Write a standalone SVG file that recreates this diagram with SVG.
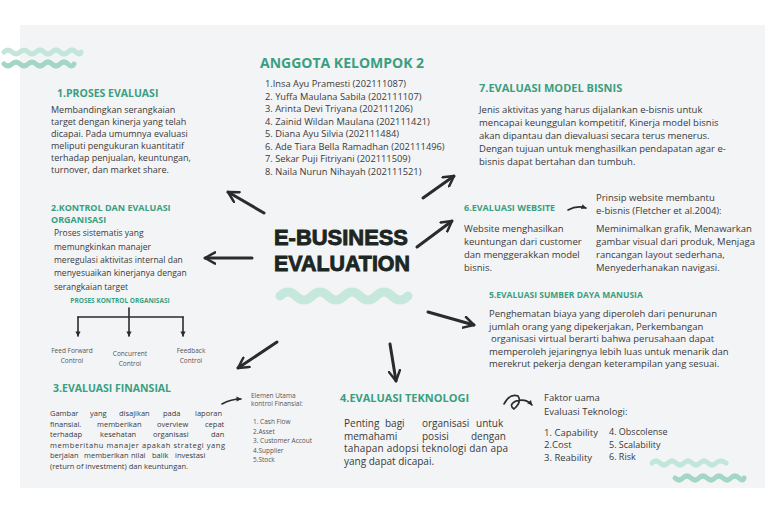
<svg xmlns="http://www.w3.org/2000/svg" width="768" height="512" viewBox="0 0 768 512">
<defs>
<style>
.h{font-family:"Open Sans","DejaVu Sans",sans-serif;font-weight:700;fill:#3a9f80}
.b{font-family:"Open Sans","DejaVu Sans",sans-serif;fill:#3a3a3a}
.s{font-family:"Open Sans","DejaVu Sans",sans-serif;fill:#555}
.t{font-family:"Liberation Sans",Arial,sans-serif;font-weight:700;font-size:22.5px;fill:#1c2622;stroke:#1c2622;stroke-width:0.9px}
.arr{fill:none;stroke:#2b2b2b;stroke-width:3;stroke-linecap:round;marker-end:url(#ah)}
.thin{fill:none;stroke:#2b2b2b;stroke-width:1.6;stroke-linecap:round}
.wave{fill:none;stroke-linecap:round}
</style>
<marker id="ah" viewBox="0 0 12 12" refX="10" refY="6" markerWidth="4.5" markerHeight="4.5" orient="auto" markerUnits="strokeWidth">
<path d="M1,1 L10,6 L1,11" fill="none" stroke="#2b2b2b" stroke-width="2.2" stroke-linecap="round" stroke-linejoin="round"/>
</marker>
<marker id="sh" viewBox="0 0 10 10" refX="8" refY="5" markerWidth="4" markerHeight="4" orient="auto" markerUnits="strokeWidth">
<path d="M1,1 L9,5 L1,9 Z" fill="#2b2b2b"/>
</marker>
</defs>
<rect width="768" height="512" fill="#ffffff"/>
<rect x="20" y="25" width="745" height="463" fill="#f3f4f6"/>

<g id="waves">
<path class="wave" stroke="#c3e6da" stroke-width="5" d="M4,52 Q8,48 12,52 T20,52 T28,52 T36,52 T44,52 T52,52 T60,52 T68,52 T76,52 T81,52"/>
<path class="wave" stroke="#a3d6c4" stroke-width="5" d="M4,64 Q8,68 12,64 T20,64 T28,64 T36,64 T44,64 T52,64 T60,64 T68,64 T74,64"/>
<path class="wave" stroke="#c5e7dc" stroke-width="9" d="M280,296 Q288,288 296,296 T312,296 T328,296 T344,296 T360,296 T376,296 T392,296 T408,296"/>
<path class="wave" stroke="#c3e6da" stroke-width="5" d="M652,463 Q656,459 660,463 T668,463 T676,463 T684,463 T692,463 T700,463 T708,463 T716,463 T726,463"/>
<path class="wave" stroke="#a3d6c4" stroke-width="5" d="M675,478 Q679,482 683,478 T691,478 T699,478 T707,478 T715,478 T723,478 T731,478 T739,478 T744,478"/>
</g>

<g id="title">
<text class="t" x="274" y="245" textLength="134" lengthAdjust="spacingAndGlyphs">E-BUSINESS</text>
<text class="t" x="274" y="271" textLength="136" lengthAdjust="spacingAndGlyphs">EVALUATION</text>
</g>

<g id="anggota">
<text class="h" x="260" y="68" font-size="14">ANGGOTA KELOMPOK 2</text>
<g class="b" font-size="9.3">
<text x="265" y="87">1.Insa Ayu Pramesti (202111087)</text>
<text x="265" y="99.5">2. Yuffa Maulana Sabila (202111107)</text>
<text x="265" y="112">3. Arinta Devi Triyana (202111206)</text>
<text x="265" y="124.5">4. Zainid Wildan Maulana (202111421)</text>
<text x="265" y="137">5. Diana Ayu Silvia (202111484)</text>
<text x="265" y="149.5">6. Ade Tiara Bella Ramadhan (202111496)</text>
<text x="265" y="162">7. Sekar Puji Fitriyani (202111509)</text>
<text x="265" y="174.5">8. Naila Nurun Nihayah (202111521)</text>
</g>
</g>

<g id="sec1">
<text class="h" x="57" y="97" font-size="10.5">1.PROSES EVALUASI</text>
<g class="b" font-size="9">
<text x="51" y="113">Membandingkan serangkaian</text>
<text x="51" y="125">target dengan kinerja yang telah</text>
<text x="51" y="137">dicapai. Pada umumnya evaluasi</text>
<text x="51" y="149">meliputi pengukuran kuantitatif</text>
<text x="51" y="161">terhadap penjualan, keuntungan,</text>
<text x="51" y="173">turnover, dan market share.</text>
</g>
</g>

<g id="sec2">
<text class="h" x="51" y="211" font-size="9">2.KONTROL DAN EVALUASI</text>
<text class="h" x="51" y="223" font-size="9">ORGANISASI</text>
<g class="b" font-size="8.5">
<text x="54" y="236">Proses sistematis yang</text>
<text x="54" y="249.5">memungkinkan manajer</text>
<text x="54" y="263">meregulasi aktivitas internal dan</text>
<text x="54" y="276">menyesuaikan kinerjanya dengan</text>
<text x="54" y="289.5">serangkaian target</text>
</g>
<text class="h" x="120" y="303" font-size="6.5" text-anchor="middle">PROSES KONTROL ORGANISASI</text>
<g class="s" font-size="6.5" text-anchor="middle">
<text x="72" y="353">Feed Forward</text>
<text x="72" y="363">Control</text>
<text x="130" y="356">Concurrent</text>
<text x="130" y="366">Control</text>
<text x="191" y="353">Feedback</text>
<text x="191" y="363">Control</text>
</g>
</g>

<g id="sec3">
<text class="h" x="53" y="392" font-size="10.5">3.EVALUASI FINANSIAL</text>
<g class="b" font-size="7.5">
<text y="416"><tspan x="50">Gambar</tspan><tspan x="90">yang</tspan><tspan x="119">disajikan</tspan><tspan x="163">pada</tspan><tspan x="195">laporan</tspan></text>
<text y="426.5"><tspan x="50">finansial.</tspan><tspan x="97">memberikan</tspan><tspan x="157">overview</tspan><tspan x="205">cepat</tspan></text>
<text y="437"><tspan x="50">terhadap</tspan><tspan x="100">kesehatan</tspan><tspan x="153">organisasi</tspan><tspan x="211">dan</tspan></text>
<text x="50" y="447.5" textLength="175" lengthAdjust="spacing">memberitahu manajer apakah strategi yang</text>
<text y="458"><tspan x="50">berjalan</tspan><tspan x="84">memberikan</tspan><tspan x="131">nilai</tspan><tspan x="152">balik</tspan><tspan x="175">investasi</tspan></text>
<text x="50" y="468.5">(return of investment) dan keuntungan.</text>
</g>
<g class="s" font-size="6.5">
<text x="251" y="398">Elemen Utama</text>
<text x="251" y="406">kontrol Finansial:</text>
<text x="253" y="424">1. Cash Flow</text>
<text x="253" y="433.5">2.Asset</text>
<text x="253" y="443">3. Customer Accout</text>
<text x="253" y="452.5">4.Supplier</text>
<text x="253" y="462">5.Stock</text>
</g>
</g>

<g id="sec4">
<text class="h" x="340" y="402" font-size="11">4.EVALUASI TEKNOLOGI</text>
<g class="b" font-size="10">
<text y="427"><tspan x="344">Penting</tspan><tspan x="385">bagi</tspan><tspan x="422">organisasi</tspan><tspan x="476">untuk</tspan></text>
<text y="439.5"><tspan x="344">memahami</tspan><tspan x="422">posisi</tspan><tspan x="471">dengan</tspan></text>
<text x="344" y="452" textLength="164" lengthAdjust="spacing">tahapan adopsi teknologi dan apa</text>
<text x="344" y="464.5">yang dapat dicapai.</text>
</g>
<g class="b" font-size="9.5">
<text x="544" y="401">Faktor uama</text>
<text x="544" y="415">Evaluasi Teknologi:</text>
<text x="544" y="435.5">1. Capability</text>
<text x="544" y="447.5">2.Cost</text>
<text x="544" y="461">3. Reability</text>
</g>
<g class="b" font-size="9">
<text x="609" y="435">4. Obscolense</text>
<text x="609" y="447.5">5. Scalability</text>
<text x="609" y="460">6. Risk</text>
</g>
</g>

<g id="sec5">
<text class="h" x="489" y="298" font-size="8.5">5.EVALUASI SUMBER DAYA MANUSIA</text>
<g class="b" font-size="9.5">
<text x="489" y="317">Penghematan biaya yang diperoleh dari penurunan</text>
<text x="489" y="329.5">jumlah orang yang dipekerjakan, Perkembangan</text>
<text x="491" y="342">organisasi virtual berarti bahwa perusahaan dapat</text>
<text x="489" y="354.5">memperoleh jejaringnya lebih luas untuk menarik dan</text>
<text x="489" y="367">merekrut pekerja dengan keterampilan yang sesuai.</text>
</g>
</g>

<g id="sec6">
<text class="h" x="464" y="211" font-size="9">6.EVALUASI WEBSITE</text>
<g class="b" font-size="9.5">
<text x="596" y="201">Prinsip website membantu</text>
<text x="596" y="214">e-bisnis (Fletcher et al.2004):</text>
<text x="464" y="232">Website menghasilkan</text>
<text x="464" y="245">keuntungan dari customer</text>
<text x="464" y="258">dan menggerakkan model</text>
<text x="464" y="271">bisnis.</text>
<text x="596" y="232">Meminimalkan grafik, Menawarkan</text>
<text x="596" y="245">gambar visual dari produk, Menjaga</text>
<text x="596" y="258">rancangan layout sederhana,</text>
<text x="596" y="271">Menyederhanakan navigasi.</text>
</g>
</g>

<g id="sec7">
<text class="h" x="479" y="92" font-size="11">7.EVALUASI MODEL BISNIS</text>
<g class="b" font-size="9.5">
<text x="479" y="113">Jenis aktivitas yang harus dijalankan e-bisnis untuk</text>
<text x="479" y="126">mencapai keunggulan kompetitif, Kinerja model bisnis</text>
<text x="479" y="139">akan dipantau dan dievaluasi secara terus menerus.</text>
<text x="479" y="152">Dengan tujuan untuk menghasilkan pendapatan agar e-</text>
<text x="479" y="165">bisnis dapat bertahan dan tumbuh.</text>
</g>
</g>

<g id="connectors">
<path class="arr" d="M264,213 L228,192"/>
<path class="arr" d="M252,258 L205,258"/>
<path class="arr" d="M277,342 L238,368"/>
<path class="arr" d="M390,344 L396,381"/>
<path class="arr" d="M428,312 L474,325"/>
<path class="arr" d="M417,247 L452,221"/>
<path class="arr" d="M423,198 L454,176"/>
<path class="thin" d="M129,308 L129,336" marker-end="url(#sh)"/>
<path class="thin" d="M78,317 L183,317"/>
<path class="thin" d="M78,317 L78,336" marker-end="url(#sh)"/>
<path class="thin" d="M183,317 L183,336" marker-end="url(#sh)"/>
<path class="thin" stroke-width="1.2" d="M568,210 Q577,205 586,208" marker-end="url(#sh)"/>
<path class="thin" stroke-width="1.2" d="M222,404 Q231,399 241,399" marker-end="url(#sh)"/>
<path class="thin" stroke-width="1.2" d="M504,404 Q510,393 518,396 Q522,402 514,409 Q508,405 516,401 Q526,398 532,405" marker-end="url(#sh)"/>
</g>
</svg>
